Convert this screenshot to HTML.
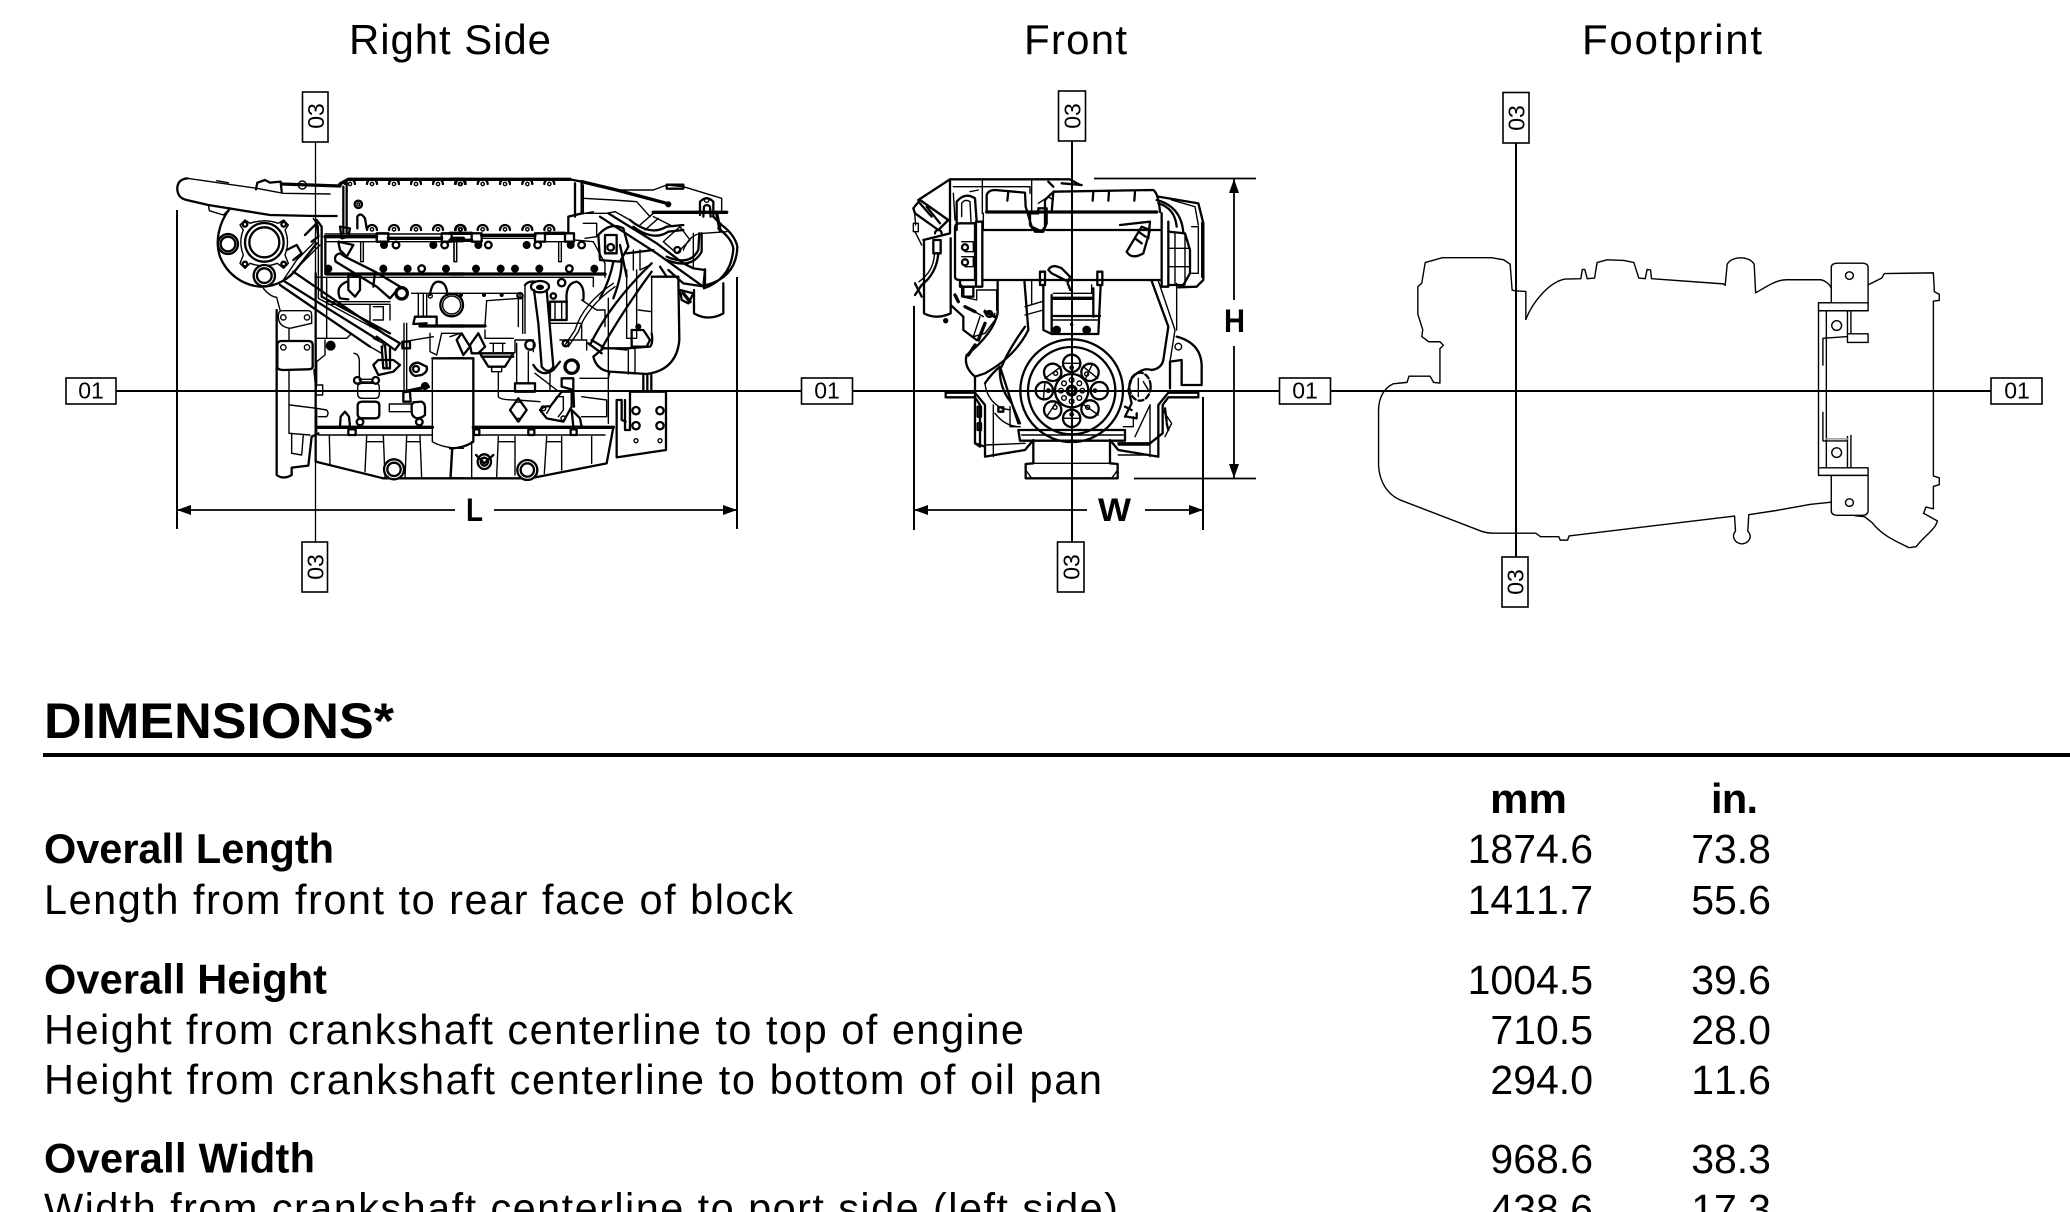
<!DOCTYPE html>
<html><head><meta charset="utf-8"><style>
html,body{margin:0;padding:0;background:#fff;width:2070px;height:1212px;overflow:hidden}
svg{display:block}
text{font-family:"Liberation Sans",Arial,sans-serif;fill:#000;font-kerning:none}
.b{font-weight:bold}
.d *{vector-effect:non-scaling-stroke}
.d{fill:none;stroke:#000;stroke-width:1.4;stroke-linejoin:round;stroke-linecap:round}
.t{stroke-width:2.3}
.x{stroke-width:3.3}
.k{fill:#000}
.w{fill:#fff}
.l{stroke:#000;stroke-width:2;fill:none}
.box{fill:#fff;stroke:#000;stroke-width:1.6}
</style></head><body>
<svg width="2070" height="1212" viewBox="0 0 2070 1212" xmlns="http://www.w3.org/2000/svg">
<rect width="2070" height="1212" fill="#fff"/>

<!-- SIDE ENGINE, LEFT HALF -->
<g class="d" transform="translate(170,170) scale(.33333)">
<path class="t" d="M52 25Q20 28 22 60Q25 85 50 90L115 105L300 135L435 138L500 138"/>
<path d="M52 25L260 55L340 70L480 72M140 32L175 38M115 105L118 122L160 135L180 115"/>
<path class="t" d="M258 58L262 38L285 30L300 38L332 35L335 65"/>
<path class="x" d="M335 42L510 48"/><circle cx="397" cy="45" r="12"/>
<path class="t" d="M180 115C145 160 135 215 150 260C170 310 215 345 270 350C320 352 360 325 385 290L440 220"/>
<circle class="t" cx="283" cy="217" r="58"/><circle class="t" cx="283" cy="217" r="45"/>
<path d="M225 150L240 160Q283 145 325 160L341 150L355 165L345 180Q360 215 345 255L355 280L341 295L322 280Q283 295 240 280L225 295L210 280L220 255Q205 215 220 180L210 165Z"/>
<circle class="t" cx="225" cy="163" r="7"/><circle class="t" cx="341" cy="163" r="7"/><circle class="t" cx="225" cy="282" r="7"/><circle class="t" cx="341" cy="282" r="7"/>
<circle class="t" cx="174" cy="222" r="30"/><circle class="t" cx="174" cy="222" r="22"/>
<circle class="w t" cx="283" cy="317" r="32"/><circle class="t" cx="283" cy="317" r="22"/>
<path class="t" d="M350 240L380 225L395 250L370 270M405 195L440 160L445 200L425 215"/>
<path d="M435 215L380 270L340 330M450 225L395 280L360 320"/>
<path class="t" d="M330 345L600 530M345 335L625 510M370 305L640 490L690 520L675 540L620 500"/>
<path class="t" d="M440 150L455 170L455 380L660 490"/><path d="M430 145L445 170L445 385L640 490"/>
<path d="M600 530L635 550L640 520L610 505"/>
<path d="M280 355Q300 380 320 382L330 420"/>
<path class="t" d="M320 420L320 915Q340 930 365 915L365 893L415 887L425 800L445 790"/>
<path d="M335 422L415 422Q425 422 425 435L425 460L360 475Q325 470 325 440Q325 422 335 422Z"/>
<circle cx="340" cy="442" r="8"/><circle cx="411" cy="442" r="8"/>
<path class="t" d="M335 513L415 513Q428 513 428 525L428 590Q428 598 415 598L340 600Q322 600 322 590L322 525Q322 513 335 513Z"/>
<circle cx="340" cy="532" r="8"/><circle cx="411" cy="532" r="8"/>
<path d="M357 475L357 513M357 600L357 790L420 795M360 705L440 715L440 785M365 790L365 850L395 855L400 795"/>
<path class="t" d="M437 310L437 790M433 600L438 650"/>
<path d="M438 645L458 645L458 675L438 675ZM440 715L470 720Q478 730 470 740L445 740"/>
<!-- manifold -->
<path class="x" d="M510 42L535 28L880 28"/>
<path class="t" d="M530 38L530 190M520 50L520 190"/>
<path class="x" d="M465 200L620 200M655 205L815 205M845 205L880 205"/>
<path d="M465 192L880 192M465 215L880 215"/>
<path class="t" d="M620 190L655 190L655 215L620 215ZM815 190L845 190L845 215L815 215ZM466 200L466 312"/>
<path class="x" d="M470 312L880 312"/><path d="M470 322L880 322M440 322L470 322"/>
<g class="t"><path d="M525 42a15 15 0 0 1 30 0M591 42a15 15 0 0 1 30 0M657 42a15 15 0 0 1 30 0M723 42a15 15 0 0 1 30 0M789 42a15 15 0 0 1 30 0M855 42a15 15 0 0 1 30 0M591 180a15 15 0 0 1 30 0M657 180a15 15 0 0 1 30 0M723 180a15 15 0 0 1 30 0M789 180a15 15 0 0 1 30 0M855 180a15 15 0 0 1 30 0"/></g>
<g><circle cx="540" cy="42" r="5"/><circle cx="606" cy="42" r="5"/><circle cx="672" cy="42" r="5"/><circle cx="738" cy="42" r="5"/><circle cx="804" cy="42" r="5"/><circle cx="870" cy="42" r="5"/><circle cx="606" cy="178" r="5"/><circle cx="672" cy="178" r="5"/><circle cx="738" cy="178" r="5"/><circle cx="804" cy="178" r="5"/><circle cx="870" cy="178" r="5"/></g>
<circle class="t" cx="565" cy="103" r="11"/><circle cx="565" cy="103" r="4"/>
<path class="t" d="M562 175L562 140Q572 125 585 145L590 175"/>
<path class="t" d="M510 170L540 175L535 200L515 205ZM505 215L550 225L530 260L510 240Z"/>
<g class="k"><circle cx="642" cy="225" r="10"/><circle cx="790" cy="225" r="10"/><circle cx="475" cy="296" r="10"/><circle cx="640" cy="296" r="10"/><circle cx="713" cy="296" r="10"/><circle cx="828" cy="296" r="10"/></g>
<circle class="t" cx="678" cy="225" r="10"/><circle class="t" cx="824" cy="225" r="10"/><circle class="t" cx="755" cy="296" r="10"/>
<path d="M572 215L572 275L580 275L580 215M852 215L852 275L860 275L860 215"/>
<path class="t" d="M510 250Q490 255 497 275L620 350L660 385L690 350L615 305L525 260ZM615 305L610 350"/>
<circle class="x" cx="695" cy="370" r="17"/>
<path class="t" d="M510 385Q495 350 530 335M510 385L535 388"/>
<path class="t" d="M535 315L535 360L555 380L570 360L570 320Z"/>
<path d="M470 322L470 395L660 395M475 403L660 403L660 450M610 410L640 410L640 450L610 450M600 403L600 470"/>
<path d="M470 395L470 505M440 505L530 505L545 490"/>
<circle class="x k" cx="482" cy="527" r="10"/>
<path d="M465 510L465 555L440 575L440 640M552 550Q568 552 568 575L568 630"/>
<circle class="t" cx="562" cy="631" r="10"/><circle class="t" cx="617" cy="631" r="10"/><path d="M572 628L607 628M572 636L607 636"/>
<path d="M578 640L615 640Q628 640 628 652L628 672Q628 685 615 685L578 685Q563 685 563 672L563 652Q563 640 578 640Z"/>
<path class="t" d="M578 695L615 695Q628 695 628 707L628 732Q628 745 615 745L578 745Q563 745 563 732L563 707Q563 695 578 695Z"/>
<path class="t" d="M610 585L625 570L670 570L690 585L670 605L625 615Z"/>
<path class="t" d="M635 530L640 595L660 595L660 530"/><path class="t" d="M645 525L650 590"/>
<path class="t" d="M720 595Q725 578 745 578L770 590Q775 605 755 615L735 618Q720 610 720 595Z"/><circle class="t" cx="738" cy="597" r="9"/>
<path d="M702 460L702 665M710 460L710 665"/><path class="t" d="M697 515L720 515L720 535L697 535Z"/>
<path class="x" d="M705 665L775 650"/><circle class="k" cx="765" cy="648" r="10"/>
<path class="t" d="M700 665L720 665L722 695L700 695Z"/>
<path d="M658 702L725 702M658 702L658 725L725 725"/>
<path class="t" d="M730 697L755 695Q765 700 765 712L765 735Q755 745 740 745Q725 740 725 725L725 705Z"/>
<circle class="t" cx="570" cy="756" r="10"/><circle class="t" cx="748" cy="756" r="10"/>
<path class="t" d="M510 770L512 740L525 725L537 740L540 770Z"/>
<path class="x" d="M445 772L787 772"/><path d="M445 795L787 795"/>
<path class="t" d="M535 778L557 778L557 795L535 795Z"/>
<!-- centre and filter -->
<path class="t" d="M787 565L880 565"/><path d="M787 565L787 815Q820 835 880 835"/>
<path d="M745 370L745 440M770 370L770 440M760 370L760 440"/>
<path class="t" d="M780 375Q785 335 805 335Q830 335 832 375"/><circle cx="781" cy="378" r="6"/>
<circle class="t" cx="845" cy="405" r="34"/><circle cx="845" cy="405" r="27"/>
<path class="t" d="M735 440L800 440L800 465M735 440L730 462L770 460"/>
<path class="x" d="M750 468L880 468"/>
<path d="M725 370L870 370M780 490L780 545L800 555L815 490L870 490M700 515L790 500"/>
<!-- pan -->
<path class="t" d="M437 795L437 875L640 925L880 925"/>
<path d="M478 798L480 885M590 798L585 905M640 798L645 920M710 798L705 925M750 798L755 925M848 838L843 925"/>
<path d="M590 815L640 815M710 815L750 815"/>
<circle class="t w" cx="672" cy="898" r="30"/><circle class="t" cx="672" cy="898" r="20"/>
</g>

<!-- SIDE ENGINE, RIGHT HALF -->
<g class="d" transform="translate(450,170) scale(.33333)">
<path class="x" d="M0 28L360 28"/>
<path class="t" d="M360 28L395 35L395 130L355 140L355 190M375 40L375 140"/>
<path class="x" d="M395 35L500 60L650 100"/><circle class="k" cx="655" cy="103" r="7"/>
<path d="M400 85L490 90L560 95L600 140M400 45L400 130L470 130L495 125L540 150M490 60L610 60L650 45L700 50L815 85L815 130"/>
<path class="t" d="M650 44L700 44L700 56L650 56Z"/>
<path class="x" d="M610 127L830 127"/>
<g class="t"><path d="M17 42a15 15 0 0 1 30 0M83 42a15 15 0 0 1 30 0M150 42a15 15 0 0 1 30 0M217 42a15 15 0 0 1 30 0M283 42a15 15 0 0 1 30 0M17 180a15 15 0 0 1 30 0M83 180a15 15 0 0 1 30 0M150 180a15 15 0 0 1 30 0M217 180a15 15 0 0 1 30 0M283 180a15 15 0 0 1 30 0"/></g>
<g><circle cx="32" cy="42" r="5"/><circle cx="98" cy="42" r="5"/><circle cx="165" cy="42" r="5"/><circle cx="232" cy="42" r="5"/><circle cx="298" cy="42" r="5"/><circle cx="32" cy="178" r="5"/><circle cx="98" cy="178" r="5"/><circle cx="165" cy="178" r="5"/><circle cx="232" cy="178" r="5"/><circle cx="298" cy="178" r="5"/></g>
<path class="x" d="M0 190L65 190M95 196L255 196M0 211L65 211M285 190L345 190"/>
<path d="M95 205L255 205M285 215L345 215"/>
<path class="t" d="M65 190L95 190L95 215L65 215ZM255 190L285 190L285 215L255 215ZM345 190L372 190L372 215L345 215Z"/>
<g class="k"><circle cx="85" cy="225" r="10"/><circle cx="230" cy="225" r="10"/><circle cx="362" cy="225" r="10"/><circle cx="78" cy="296" r="10"/><circle cx="152" cy="296" r="10"/><circle cx="195" cy="296" r="10"/><circle cx="268" cy="296" r="10"/><circle cx="433" cy="296" r="10"/></g>
<circle class="t" cx="115" cy="225" r="10"/><circle class="t" cx="263" cy="225" r="10"/><circle class="t" cx="395" cy="225" r="10"/><circle class="t" cx="358" cy="296" r="10"/>
<path d="M12 215L12 275L20 275L20 215M326 215L326 275L334 275L334 215"/>
<path class="x" d="M0 312L465 312"/><path d="M0 322L430 322L430 350M372 210L430 215L465 280L465 322"/>
<!-- alternator region -->
<path class="t" d="M445 195Q480 155 520 175L535 230L510 275L450 270Z"/>
<path class="t" d="M465 195L500 195L500 250L465 250Z"/><circle class="t" cx="482" cy="232" r="10"/>
<path class="t" d="M490 275Q480 330 450 385M515 275Q515 320 490 385"/>
<path class="t" d="M510 225L530 320"/>
<path d="M400 160L440 160L440 200L405 205M355 140L430 125"/>
<path class="t" d="M450 140L620 250L760 350L765 300L730 295L700 280L620 220L475 130"/>
<path class="t" d="M540 150Q600 200 650 170L700 165M550 170Q610 215 655 185L700 180"/>
<path d="M570 165L610 130M585 180L625 145M610 140L670 170M640 215L690 170L720 210L680 250Z"/>
<circle class="t" cx="682" cy="240" r="9"/>
<!-- diagonal hoses -->
<path class="t" d="M420 525Q480 400 605 280M455 535Q520 420 605 305"/>
<path class="t" d="M415 520L455 550M425 510L465 535"/>
<path d="M345 525L375 480Q400 400 490 340M355 530L385 485Q410 410 495 350"/>
<circle class="t" cx="347" cy="520" r="9"/>
<circle class="x" cx="365" cy="590" r="20"/>
<path class="t" d="M252 360L265 460L275 590Q295 615 310 590L290 360"/>
<ellipse class="t" cx="270" cy="350" rx="27" ry="17"/><ellipse cx="270" cy="352" rx="10" ry="6" class="k"/>
<path class="t" d="M250 585Q275 625 310 600L330 575"/>
<path class="t" d="M605 320L685 320L688 510Q680 600 590 612L480 605Q440 600 430 560L460 535L530 535L600 530Q610 520 605 490"/>
<path d="M535 535L535 612M555 535L555 612M605 320L605 490M530 300L530 505L560 505L560 300"/>
<path class="t" d="M545 480L580 480L600 510L590 530L545 530Z"/>
<path d="M565 420L605 425M475 385L475 535L530 540M550 240L550 300M570 240L570 300L600 285M475 530L475 760"/>
<path class="t" d="M530 250L610 240M630 290L650 320"/>
<circle class="k" cx="565" cy="470" r="7"/>
<path class="t" d="M580 615L580 660M592 615L592 660M604 615L604 660"/>
<!-- bracket -->
<path class="t" d="M540 665L648 665L648 840L500 862L500 690L515 690L515 750L527 755"/>
<path class="t" d="M540 665L540 780L525 780L525 690"/>
<circle class="t" cx="558" cy="722" r="11"/><circle class="t" cx="630" cy="722" r="11"/><circle class="t" cx="558" cy="767" r="11"/><circle class="t" cx="630" cy="767" r="11"/><circle cx="558" cy="812" r="6"/><circle cx="630" cy="812" r="6"/>
<!-- upper right -->
<path class="t" d="M750 135L750 95Q770 75 790 95L790 140M760 140L762 110Q770 100 780 110L782 140"/>
<circle cx="770" cy="90" r="7"/>
<path class="t" d="M732 360L732 430Q775 455 820 430L820 340"/>
<path d="M700 240Q720 190 760 190L830 185M730 190L730 295"/>
<path class="t" d="M770 345Q860 320 862 230Q855 195 815 165L790 140M762 355Q845 325 850 235Q845 205 805 175"/>
<path class="t" d="M650 260Q720 290 745 240L748 190M650 270Q725 300 755 245L755 190"/>
<path class="x" d="M800 130L810 180M700 370L720 395"/>
<path class="t" d="M690 360L730 370L715 400L695 390ZM655 300L700 340L765 350L765 298"/>
<!-- lower -->
<path class="t" d="M70 565L70 815Q40 835 0 835"/>
<path class="x" d="M0 468L105 468M70 772L490 772"/><path class="t" d="M0 565L70 565"/>
<path d="M0 370L210 370L210 385L110 392L105 465M225 345L225 490M205 380L205 470M218 380L218 490"/>
<circle class="k" cx="33" cy="375" r="4"/><circle class="k" cx="102" cy="375" r="4"/><circle class="k" cx="155" cy="375" r="4"/><circle cx="210" cy="377" r="8" class="t"/>
<path class="t" d="M225 345Q235 332 255 335"/>
<path class="t" d="M90 550L190 550L165 590L115 590Z"/>
<path class="t" d="M95 560L190 560"/>
<path d="M125 590L125 605L155 605L155 590M130 520L130 545M158 520L158 545M120 520L165 520M145 605L145 680Q150 690 200 690L270 695"/>
<path class="t" d="M20 510L35 490L60 530L40 555ZM60 525L85 490L105 530L85 550L65 550Z"/>
<path d="M0 500L30 490M105 480L105 505L190 505"/>
<path d="M195 510L250 510L250 545M200 520L200 640M235 545L235 640M195 510L195 548L90 550"/>
<circle class="t" cx="240" cy="525" r="14"/>
<path class="t" d="M195 640L255 640L255 665L195 665Z"/>
<path class="t" d="M205 685L230 720L205 755L180 720Z"/><circle cx="205" cy="692" r="5"/><circle cx="205" cy="750" r="5"/>
<path class="t" d="M270 720Q285 705 300 710L335 665L365 665L365 710L340 755L290 745Z"/><path d="M290 730L320 680L340 680L340 720L325 740"/>
<circle cx="280" cy="715" r="7"/><circle cx="340" cy="745" r="7"/>
<path class="t" d="M370 660L372 710"/>
<path class="t" d="M335 625L370 625L370 660L335 650ZM365 720L390 745L395 770L370 770Z"/>
<path d="M395 680L470 690L470 740L395 740M390 625L475 625L480 605M300 605L300 660M255 610L320 660"/>
<path class="t" d="M300 395L350 395L350 450L300 450Z"/><path d="M315 395L315 450M335 395L335 450"/>
<circle class="t" cx="335" cy="338" r="11"/><circle class="t" cx="310" cy="378" r="8"/>
<path class="t" d="M350 395Q345 340 380 335Q405 345 400 390"/>
<path d="M300 460L395 460L395 510M330 510L410 510L410 540M395 390L440 420M440 420L465 420L465 470"/>
<!-- pan -->
<path class="t" d="M490 772L470 880L240 925L0 925"/>
<path d="M70 795L465 795M5 838L0 925M65 815L65 925M145 800L140 920M195 800L195 915M290 800L283 910M335 800L335 900M425 800L425 880M145 815L195 815M290 815L335 815"/>
<path class="t" d="M72 778L88 778L88 795L72 795ZM235 778L253 778L253 795L235 795ZM362 778L380 778L380 795L362 795Z"/>
<ellipse cx="103" cy="875" rx="20" ry="22" class="t"/><ellipse cx="103" cy="875" rx="11" ry="12" class="t"/><path class="t" d="M78 855L103 880L130 855"/>
<circle class="t w" cx="232" cy="900" r="30"/><circle class="t" cx="232" cy="900" r="20"/>
</g>

<!-- FRONT ENGINE -->
<g class="d" transform="translate(905,170) scale(.33333)">
<path class="t" d="M135 28L495 28L525 45M135 28L40 90M135 28L135 190L55 210"/>
<path d="M232 28L232 130M380 28L380 130M145 50L375 50L375 70M145 70L150 150"/>
<path class="t" d="M25 115L45 90L130 150L100 180L30 130Z"/>
<path class="t" d="M45 100L80 140M65 110L105 160"/>
<path d="M25 160L40 160L40 185L25 185ZM28 120L32 165M30 185L50 225"/>
<path class="t" d="M57 210L57 430Q95 450 137 430L137 205"/>
<path class="t" d="M85 210L107 210L107 250L85 250ZM100 250Q95 310 50 345"/><path d="M88 255Q85 305 42 335"/>
<path class="t" d="M30 340L50 380M50 345L30 375"/>
<path class="t" d="M90 190A10 10 0 1 1 110 190"/>
<circle class="k" cx="122" cy="452" r="6"/>
<path class="t" d="M155 180L155 95Q180 65 210 85L215 155"/>
<path d="M170 140L170 100Q180 85 195 95L198 155M195 65L220 60"/>
<path class="t" d="M150 175Q150 160 165 160L210 160L210 330L165 330Q150 330 150 320Z"/>
<circle class="t" cx="180" cy="232" r="9"/><circle class="t" cx="180" cy="277" r="9"/>
<path d="M170 215L205 215L205 245L180 245M170 260L205 260L205 290L180 290"/>
<path class="t" d="M213 155L213 350L232 350L232 155ZM165 330L165 350L210 350"/>
<path class="t" d="M235 180L380 180M425 180L765 180M235 330L765 330"/>
<path class="x" d="M245 126L755 126"/>
<path d="M235 130L235 180M245 180L760 180"/>
<path class="t" d="M245 126L245 75Q250 60 270 60L360 68L362 110L380 170L410 185L420 170L420 90L440 70M440 126L445 65L745 60Q760 70 765 126"/>
<path class="t" d="M310 65L307 92M565 65L563 92M612 65L610 92M690 65L688 92M430 35L445 50"/>
<path class="t" d="M375 130L400 130L400 115L425 115L425 160L415 185L390 185L375 165Z"/>
<path d="M400 100L430 80L445 90"/>
<path class="t" d="M470 40L530 45"/>
<path class="t" d="M770 130L770 350L790 350L790 155"/>
<path class="t" d="M790 185L840 190L855 240L855 310L835 345L790 345"/>
<path d="M810 190L810 345M840 190L840 345M790 235L855 235M790 290L855 290"/>
<path class="t" d="M760 80L880 100L895 160L895 330L875 350L820 352M755 90Q830 110 835 190M760 100Q810 115 815 170"/>
<path class="x" d="M893 160L893 320"/>
<path d="M860 170L880 170L880 310L860 310M800 90L870 110L880 165"/>
<path class="t" d="M645 165L735 155L730 205"/>
<path class="t" d="M665 245L710 170L735 180L715 250Q680 270 665 245Z"/>
<path class="t" d="M690 205L710 220M700 185L722 200"/>
<!-- centre bracket -->
<path class="t" d="M405 305L420 305L420 345L405 345ZM577 305L592 305L592 345L577 345Z"/>
<path class="t" d="M415 345L415 480L440 492L580 492L587 345"/>
<path class="t" d="M440 375L440 490M565 355L565 440M440 438L585 438"/><path d="M440 450L580 450"/>
<path class="x" d="M445 385L560 385"/>
<path d="M445 370L560 370L560 345"/>
<circle class="k" cx="455" cy="480" r="11"/><circle class="k" cx="545" cy="480" r="11"/><circle class="k" cx="500" cy="463" r="3"/>
<path class="t" d="M430 300Q440 280 470 295L495 320L490 335L440 310Z"/>
<path class="t" d="M488 340L496 360"/>
<!-- left pipe -->
<path class="t" d="M278 335L278 430Q265 490 185 555Q175 590 210 620L240 610Q330 560 370 480L358 330"/>
<path d="M360 410L410 395M360 435L415 420M380 335L380 400"/>
<path class="t" d="M137 405L175 440L175 480L215 510"/>
<path class="x" d="M180 410L210 425M240 425L270 440M210 525L190 555M150 375L160 395M220 510L240 460"/>
<path d="M170 345L170 380L215 390L215 360L275 360L275 420M240 420A15 15 0 1 0 270 430M225 440L205 500L240 490L270 450M200 420L235 440"/>
<path class="t" d="M175 350L205 350L205 380L175 380Z"/>
<circle class="t" cx="253" cy="432" r="9"/>
<path class="t" d="M210 620L210 820L240 830"/>
<path class="t" d="M240 640Q260 610 285 590L340 760M285 590Q280 650 320 700L345 760M360 470Q310 540 290 590"/>
<path d="M240 640Q245 690 290 715L315 720M270 730Q300 770 345 770"/>
<path class="t" d="M218 710L228 710L228 740L218 740ZM218 760L228 760L228 780L218 780ZM280 712L295 712L295 725L280 725Z"/>
<!-- pulley -->
<circle class="t w" cx="500" cy="662" r="154"/><circle class="t" cx="500" cy="662" r="131"/>
<circle class="t" cx="500" cy="662" r="50"/>
<g class="t"><circle cx="500" cy="580" r="26"/><circle cx="555" cy="607" r="26"/><circle cx="583" cy="662" r="26"/><circle cx="555" cy="717" r="26"/><circle cx="500" cy="745" r="26"/><circle cx="443" cy="720" r="26"/><circle cx="418" cy="662" r="26"/><circle cx="443" cy="607" r="26"/></g>
<path d="M474 580L526 580M500 580L500 606M563 580L540 630M420 636L415 690M392 662L444 662M557 662L609 662M474 745L526 745M500 745L500 770M530 700L580 735M455 695L425 740M420 625L468 590M535 590L578 625"/>
<g class="k"><circle cx="500" cy="593" r="5"/><circle cx="500" cy="733" r="5"/><circle cx="430" cy="662" r="5"/><circle cx="570" cy="662" r="5"/></g>
<circle cx="452" cy="610" r="6"/><circle cx="545" cy="612" r="6"/><circle cx="450" cy="712" r="6"/><circle cx="548" cy="712" r="6"/>
<g><circle cx="500" cy="630" r="7"/><circle cx="500" cy="694" r="7"/><circle cx="468" cy="662" r="7"/><circle cx="532" cy="662" r="7"/><circle cx="477" cy="640" r="7"/><circle cx="523" cy="640" r="7"/><circle cx="477" cy="684" r="7"/><circle cx="523" cy="684" r="7"/></g>
<circle class="x" cx="500" cy="662" r="13"/>
<!-- right -->
<path class="t" d="M740 333L790 470L775 570Q770 595 740 600Q710 590 680 625L670 660L680 700L660 740"/>
<path d="M760 333L810 480L795 575M815 340L815 480"/>
<path class="t" d="M815 500Q890 520 890 590L890 645L830 645L830 570L795 575L795 655"/>
<circle cx="820" cy="530" r="10"/>
<ellipse class="t" cx="705" cy="650" rx="32" ry="42" stroke-dasharray="5 3"/>
<path d="M715 635L730 660M700 625L700 680"/>
<path class="t" d="M665 740L695 745L695 730M660 710L680 720"/>
<!-- feet -->
<path class="t" d="M122 668L210 668L240 705L240 860L360 840L385 810L385 880L362 882L362 925L638 925L638 882L615 880L615 810L640 840L760 860L760 705L790 668L880 668L880 682L790 682L773 705L773 790L735 820L640 820"/>
<path class="t" d="M122 668L122 682L210 682L225 705L225 830L210 820"/>
<path d="M265 705L265 860M735 705L735 860M240 825L360 820M640 825L735 825M640 855L735 855M265 855L360 840"/>
<path d="M345 770L315 770L315 710M655 770L685 770L685 740M385 880L615 880M362 900L378 922M638 900L622 922"/>
<path class="t" d="M340 780L660 780L660 812L345 812Z"/>
<path d="M350 795L655 795M773 720L800 760L780 800M690 800L735 705"/>
<path class="t" d="M780 715L785 755M785 760L790 780"/>
</g>

<!-- FOOTPRINT -->
<g class="d" transform="translate(1300,80) scale(.491,.3444)">
<path d="M460 695C475 640 510 585 540 578L572 577L575 550L580 550L585 577L600 575L605 530L625 522L660 524L680 530L690 575L703 577L707 550L714 552L716 577L862 592L866 596L870 535C880 510 915 510 925 535L928 618C950 600 970 580 990 580L1060 580C1070 582 1080 595 1082 605"/>
<path d="M460 695L460 614L438 612L432 610L428 535L415 522L390 516L290 516L255 530L248 590L240 600L240 680L250 725L248 745L262 760L285 760L292 770L285 780L285 880L272 878L265 860L222 860L218 878L190 882C170 895 160 925 160 960L160 1120C162 1170 180 1205 205 1220L360 1305C375 1315 385 1316 400 1316L480 1316L490 1326L527 1326L530 1336L545 1336L548 1324L885 1266L887 1310C878 1325 885 1345 900 1347C915 1345 922 1325 912 1310L914 1262L970 1250L1040 1232L1082 1226"/>
<path d="M1082 647L1082 545Q1082 532 1095 532L1145 532Q1157 532 1157 545L1157 670L1056 670L1056 647Z"/>
<path d="M1056 647L1157 647"/>
<ellipse cx="1119" cy="568" rx="8" ry="11"/><ellipse cx="1093" cy="713" rx="10" ry="14"/><ellipse cx="1093" cy="1082" rx="10" ry="14"/><ellipse cx="1119" cy="1227" rx="8" ry="11"/>
<path d="M1157 595L1185 575L1190 562L1290 560L1292 615L1302 622L1302 640L1290 642L1290 1150L1302 1155L1302 1175L1290 1180L1290 1245L1275 1240L1270 1258L1298 1280C1295 1305 1270 1325 1255 1355L1240 1358C1225 1345 1190 1330 1165 1285L1150 1268L1130 1265"/>
<path d="M1056 1126L1157 1126L1157 1148L1056 1148ZM1082 1148L1082 1250Q1082 1264 1095 1264L1145 1264Q1157 1264 1157 1250L1157 1148"/>
<path d="M1056 670L1056 1126M1072 670L1072 1126"/>
<path d="M1115 670L1115 762M1122 670L1122 737M1115 737L1157 737L1157 762L1115 762M1065 828L1065 750L1115 745M1115 1035L1115 1126M1122 1032L1122 1126M1065 965L1065 1048L1115 1048"/>
<path stroke="#999" d="M1072 1042L1115 1042"/>
</g>

<!-- centerlines -->
<g class="l">
<path d="M116 391H801M853 391H1279M1331 391H1991"/>
<path d="M315.5 142V542" stroke-width="1.3"/>
<path d="M1072 141V542M1516 143V557" stroke-width="2"/>
<path d="M177 210V529M737 277V529M914 306V530M1203 397V530"/>
<path d="M177 510H455M494 510H737M914 510H1087M1145 510H1203" stroke-width="1.8"/>
<path d="M1094 178.5H1256M1134 478.5H1256M1234 179V300M1234 346V478" stroke-width="1.8"/>
</g>
<g fill="#000">
<path d="M177 510l14-5v10zM737 510l-14-5v10zM914 510l14-5v10zM1203 510l-14-5v10zM1234 179l-5 14h10zM1234 478l-5-14h10z"/>
</g>

<g>
<rect class="box" x="66" y="378" width="50" height="26"/>
<rect class="box" x="801.5" y="378" width="51" height="26"/>
<rect class="box" x="1279.5" y="378" width="51" height="26"/>
<rect class="box" x="1991" y="378" width="51" height="26"/>
<rect class="box" x="302.5" y="92" width="25.5" height="50"/>
<rect class="box" x="302" y="542" width="25.5" height="50"/>
<rect class="box" x="1058.5" y="91" width="27" height="50"/>
<rect class="box" x="1057.5" y="542" width="26.5" height="50"/>
<rect class="box" x="1503" y="92.5" width="26" height="50.5"/>
<rect class="box" x="1502" y="557" width="26" height="50"/>
</g>
<g font-size="23" text-anchor="middle">
<text x="91" y="398.5">01</text><text x="827" y="398.5">01</text><text x="1305" y="398.5">01</text><text x="2017" y="398.5">01</text>
<text transform="translate(324,116) rotate(-90)">03</text>
<text transform="translate(323.5,567) rotate(-90)">03</text>
<text transform="translate(1080.5,116) rotate(-90)">03</text>
<text transform="translate(1079.5,567) rotate(-90)">03</text>
<text transform="translate(1524.5,118) rotate(-90)">03</text>
<text transform="translate(1523.5,582) rotate(-90)">03</text>
</g>

<g class="b" font-size="32">
<text x="466" y="521" textLength="17" lengthAdjust="spacingAndGlyphs">L</text>
<text x="1098" y="521" textLength="33" lengthAdjust="spacingAndGlyphs">W</text>
<text x="1224" y="332" textLength="21" lengthAdjust="spacingAndGlyphs">H</text>
</g>

<g font-size="42">
<text x="349" y="54" textLength="202">Right Side</text>
<text x="1024" y="54" textLength="103">Front</text>
<text x="1582" y="54" textLength="180">Footprint</text>
</g>

<text class="b" font-size="50" x="44" y="738" textLength="350" lengthAdjust="spacingAndGlyphs">DIMENSIONS*</text>
<rect x="43" y="753" width="2027" height="4" fill="#000"/>

<g font-size="41.5">
<text class="b" x="1490" y="813" textLength="77" lengthAdjust="spacingAndGlyphs">mm</text>
<text class="b" x="1711" y="813" textLength="47">in.</text>
<text class="b" x="44" y="863" textLength="290">Overall Length</text>
<text x="44" y="914" textLength="749">Length from front to rear face of block</text>
<text class="b" x="44" y="993.5" textLength="283">Overall Height</text>
<text x="44" y="1044" textLength="980">Height from crankshaft centerline to top of engine</text>
<text x="44" y="1094" textLength="1058">Height from crankshaft centerline to bottom of oil pan</text>
<text class="b" x="44" y="1172.5" textLength="271">Overall Width</text>
<text x="44" y="1222.5" textLength="1074">Width from crankshaft centerline to port side (left side)</text>
</g>
<g font-size="41" text-anchor="end">
<text x="1593" y="863">1874.6</text><text x="1771" y="863">73.8</text>
<text x="1593" y="914">1411.7</text><text x="1771" y="914">55.6</text>
<text x="1593" y="994">1004.5</text><text x="1771" y="994">39.6</text>
<text x="1593" y="1044">710.5</text><text x="1771" y="1044">28.0</text>
<text x="1593" y="1094">294.0</text><text x="1771" y="1094">11.6</text>
<text x="1593" y="1173">968.6</text><text x="1771" y="1173">38.3</text>
<text x="1593" y="1223">438.6</text><text x="1771" y="1223">17.3</text>
</g>
</svg>
</body></html>
